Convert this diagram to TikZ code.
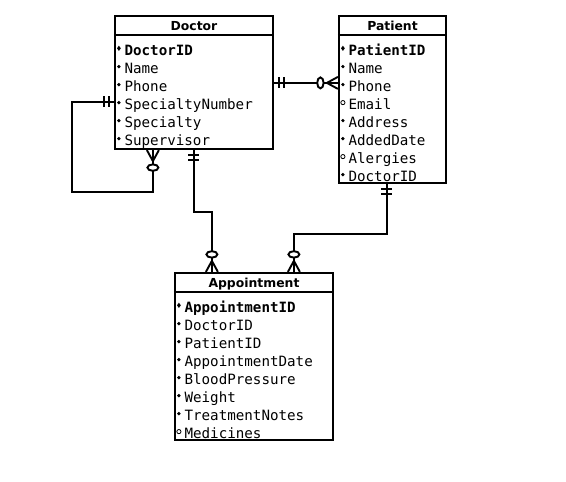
\documentclass[tikz,border=0pt]{standalone}
\usepackage{fontspec}
\usetikzlibrary{calc}
\newfontfamily\monof{DejaVu Sans Mono}
\newfontfamily\sansf{DejaVu Sans}
\tikzset{
  ent/.style={draw, line width=2.2pt, inner sep=0pt},
  hdr/.style={font=\sansf\bfseries\fontsize{12.4}{14}\selectfont, anchor=base, inner sep=0pt},
  attr/.style={font=\monof\fontsize{14.2}{17}\selectfont, anchor=base west, inner sep=0pt},
  keyattr/.style={font=\monof\bfseries\fontsize{14.2}{17}\selectfont, anchor=base west, inner sep=0pt},
  conn/.style={line width=2pt},
  mk/.style={line width=1.9pt},
}
% bullets
\newcommand\bm[1]{\fill ($(#1.base west)+(-5.5,-7.3)$) circle[radius=1.8pt];}
\newcommand\bk[1]{\fill ($(#1.base west)+(-5.5,-7.6)$) +(0,-2.6) -- +(1.9,0) -- +(0,2.6) -- +(-1.9,0) -- cycle;}
\newcommand\bo[1]{\draw[line width=0.8pt] ($(#1.base west)+(-5.5,-7.3)$) circle[radius=2.1pt];}
% end markers
\newcommand\barsH[2]{\begin{scope}[shift={(#1)},xscale=#2]\draw[mk] (4.5,-5.5) -- (4.5,5.5) (9.5,-5.5) -- (9.5,5.5);\end{scope}}
\newcommand\barsV[2]{\begin{scope}[shift={(#1)},yscale=#2]\draw[mk] (-5.5,4.5) -- (5.5,4.5) (-5.5,9.5) -- (5.5,9.5);\end{scope}}
\newcommand\crowH[2]{\begin{scope}[shift={(#1)},xscale=#2]\draw[mk] (0,-6) -- (11,0) -- (0,6);\draw[mk,fill=white] (17.5,0) ellipse[x radius=3.2, y radius=5.5];\end{scope}}
\newcommand\crowV[2]{\begin{scope}[shift={(#1)},yscale=#2]\draw[mk] (-6,0) -- (0,11) -- (6,0);\draw[mk,fill=white] (0,17.5) ellipse[x radius=5.5, y radius=3.2];\end{scope}}
\begin{document}
\begin{tikzpicture}[x=1pt,y=-1pt]
\useasboundingbox[fill=white] (0,0) rectangle (566,482);
% entities
\node[ent, minimum width=158pt, minimum height=133pt] (doctor) at (194,82.5) {};
\node[ent, minimum width=107pt, minimum height=167pt] (patient) at (392.5,99.5) {};
\node[ent, minimum width=158pt, minimum height=167pt] (appt) at (254,356.5) {};
\foreach \e in {doctor,patient,appt}{
  \draw[line width=2.2pt] ($(\e.north west)+(0,20)$) -- ($(\e.north east)+(0,20)$);
}
\node[hdr] (doctor-h) at ($(doctor.north)+(0,15.5)$) {Doctor};
\node[hdr] (patient-h) at ($(patient.north)+(0,15.5)$) {Patient};
\node[hdr] (appt-h) at ($(appt.north)+(0,15.5)$) {Appointment};
% Doctor attributes
\node[keyattr] (d0) at ($(doctor.north west)+(10.5,41)$) {DoctorID}; \bk{d0}
\foreach \t [count=\k] in {Name,Phone,SpecialtyNumber,Specialty,Supervisor}{
  \node[attr] (d\k) at ($(doctor.north west)+(10.5,41+18*\k)$) {\t}; \bm{d\k}
}
% Patient attributes
\node[keyattr] (p0) at ($(patient.north west)+(10.5,41)$) {PatientID}; \bk{p0}
\foreach \t/\o [count=\k] in {Name/m,Phone/m,Email/o,Address/m,AddedDate/m,Alergies/o,DoctorID/m}{
  \node[attr] (p\k) at ($(patient.north west)+(10.5,41+18*\k)$) {\t};
  \csname b\o\endcsname{p\k}
}
% Appointment attributes
\node[keyattr] (a0) at ($(appt.north west)+(10.5,41)$) {AppointmentID}; \bk{a0}
\foreach \t/\o [count=\k] in {DoctorID/m,PatientID/m,AppointmentDate/m,BloodPressure/m,Weight/m,TreatmentNotes/m,Medicines/o}{
  \node[attr] (a\k) at ($(appt.north west)+(10.5,41+18*\k)$) {\t};
  \csname b\o\endcsname{a\k}
}
% connector end points
\coordinate (c1a) at ($(doctor.north east)+(0,68)$);
\coordinate (c1b) at ($(patient.north west)+(0,68)$);
\coordinate (c2a) at ($(doctor.north west)+(0,87)$);
\coordinate (c2b) at ($(doctor.south west)+(39,0)$);
\coordinate (c3a) at ($(doctor.south west)+(80,0)$);
\coordinate (c3b) at ($(appt.north west)+(38,0)$);
\coordinate (c4a) at ($(patient.south west)+(49,0)$);
\coordinate (c4b) at ($(appt.north west)+(120,0)$);
% connectors
\draw[conn] (c1a) -- (c1b);
\draw[conn] (c2a) -- ++(-42,0) -- ++(0,90) -| (c2b);
\draw[conn] (c3a) -- ++(0,62) -| (c3b);
\draw[conn] (c4a) -- ++(0,50) -| (c4b);
% markers
\barsH{c1a}{1}
\crowH{c1b}{-1}
\barsH{c2a}{-1}
\crowV{c2b}{1}
\barsV{c3a}{1}
\crowV{c3b}{-1}
\barsV{c4a}{1}
\crowV{c4b}{-1}
\end{tikzpicture}
\end{document}
